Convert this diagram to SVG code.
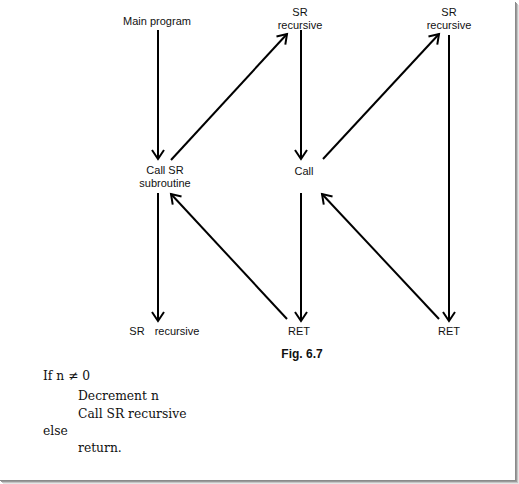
<svg xmlns="http://www.w3.org/2000/svg" width="519" height="484" viewBox="0 0 519 484">
<style>
.lbl{font-family:"Liberation Sans",Arial,sans-serif;font-size:11px;fill:#111;text-anchor:middle}
.cap{font-family:"Liberation Sans",Arial,sans-serif;font-size:12px;font-weight:bold;fill:#111;text-anchor:middle}
.code{font-family:"DejaVu Serif","Liberation Serif",serif;font-size:12.3px;fill:#111}
.edge{stroke:#000;stroke-width:2;fill:none;marker-end:url(#arr)}
</style>
<defs>
<marker id="arr" markerUnits="userSpaceOnUse" markerWidth="20" markerHeight="20" refX="0" refY="0" viewBox="-12 -10 14 20" orient="auto" overflow="visible">
<path d="M-9,-6 L0,0 L-9,6" fill="none" stroke="#000" stroke-width="2"/>
</marker>
</defs>
<rect x="0" y="0" width="519" height="484" fill="#fff"/>
<g id="frame">
<line x1="515.5" y1="2" x2="515.5" y2="481.5" stroke="#8a8a8a" stroke-width="1"/>
<line x1="516.5" y1="3" x2="516.5" y2="482.5" stroke="#9a9a9a" stroke-width="1"/>
<line x1="517.5" y1="4" x2="517.5" y2="483.5" stroke="#c4c4c4" stroke-width="1"/>
<line x1="518.5" y1="5" x2="518.5" y2="484" stroke="#e6e6e6" stroke-width="1"/>
<line x1="0" y1="480.5" x2="516" y2="480.5" stroke="#8a8a8a" stroke-width="1"/>
<line x1="1" y1="481.5" x2="517" y2="481.5" stroke="#9a9a9a" stroke-width="1"/>
<line x1="2" y1="482.5" x2="518" y2="482.5" stroke="#c4c4c4" stroke-width="1"/>
<line x1="3" y1="483.5" x2="519" y2="483.5" stroke="#e6e6e6" stroke-width="1"/>
</g>
<g id="connectors">
<line class="edge" x1="158" y1="30" x2="158" y2="159"/>
<line class="edge" x1="171" y1="160" x2="287" y2="34"/>
<line class="edge" x1="301" y1="30" x2="301" y2="159"/>
<line class="edge" x1="323" y1="159" x2="439" y2="34"/>
<line class="edge" x1="449" y1="35" x2="449" y2="321"/>
<line class="edge" x1="158" y1="193" x2="158" y2="321"/>
<line class="edge" x1="301" y1="193" x2="301" y2="321"/>
<line class="edge" x1="287" y1="319" x2="171" y2="194"/>
<line class="edge" x1="439" y1="319" x2="322" y2="194"/>
</g>
<g id="main"><text class="lbl" x="157" y="25">Main program</text></g>
<g id="callsr"><text class="lbl" x="165" y="174">Call SR</text><text class="lbl" x="165" y="187">subroutine</text></g>
<g id="sr1"><text class="lbl" x="300" y="16">SR</text><text class="lbl" x="300" y="29">recursive</text></g>
<g id="call"><text class="lbl" x="304" y="175">Call</text></g>
<g id="sr2"><text class="lbl" x="449" y="16">SR</text><text class="lbl" x="449" y="29">recursive</text></g>
<g id="srbottom"><text class="lbl" x="137" y="335">SR</text><text class="lbl" x="177" y="335">recursive</text></g>
<g id="ret1"><text class="lbl" x="299" y="335">RET</text></g>
<g id="ret2"><text class="lbl" x="449" y="335">RET</text></g>
<g id="caption"><text class="cap" x="302" y="358">Fig. 6.7</text></g>
<g id="pseudocode">
<text class="code" x="43" y="380">If n ≠ 0</text>
<text class="code" x="78" y="400">Decrement n</text>
<text class="code" x="78" y="418">Call SR recursive</text>
<text class="code" x="43" y="435">else</text>
<text class="code" x="78" y="452">return.</text>
</g>
</svg>
